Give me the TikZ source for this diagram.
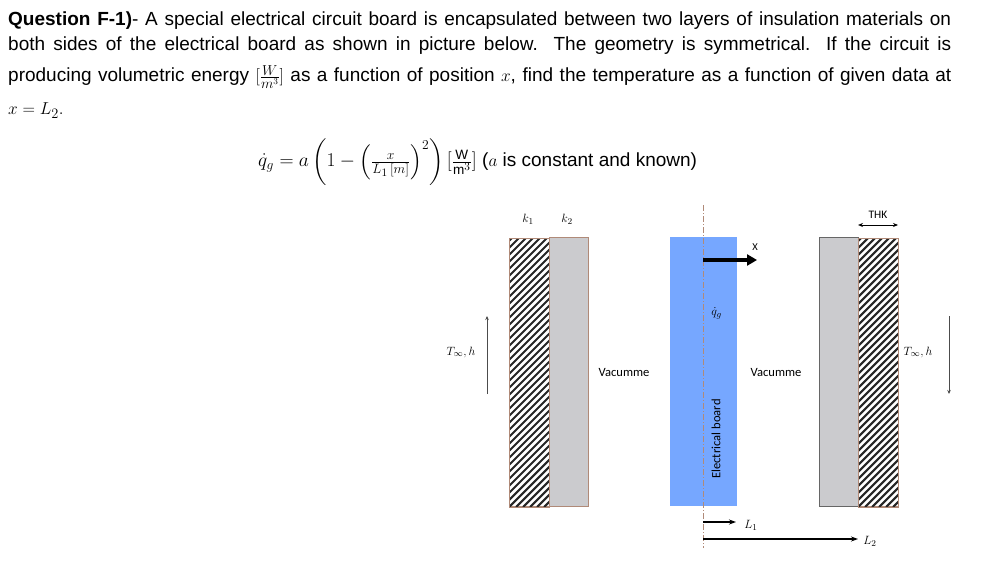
\documentclass[tikz,border=0pt]{standalone}
\usepackage{fontspec}
\usepackage{amsmath}
\usepackage{graphicx}
\setmainfont{Liberation Sans}
\newfontfamily\calfont{Carlito}
\usetikzlibrary{arrows.meta}
\definecolor{edgebrown}{HTML}{B08A78}
\definecolor{wallgray}{HTML}{CBCBCE}
\definecolor{boardblue}{HTML}{76A7FF}
\tikzset{
  line/.style={anchor=base west,inner sep=0pt,font=\fontsize{19}{20}\selectfont},
  lbl/.style={inner sep=0pt,font=\calfont\fontsize{12.6}{14}\selectfont},
  mlbl/.style={inner sep=0pt,font=\fontsize{13}{15}\selectfont},
  wall/.style={draw=edgebrown,fill=wallgray,line width=1pt,minimum height=269pt,minimum width=39pt,inner sep=0pt,anchor=north west},
  hatchbox/.style={draw=edgebrown,line width=1pt,fill=white,minimum height=268pt,minimum width=39.5pt,inner sep=0pt,anchor=north west},
  board/.style={fill=boardblue,minimum height=269pt,minimum width=66.5pt,inner sep=0pt,anchor=north west},
  thin arrow/.style={draw=black!70,line width=.8pt,-{Stealth[length=4pt,width=3.5pt]}},
  dim/.style={draw=black,line width=1.3pt,-{Stealth[length=7pt,width=5pt]}},
  centre/.style={draw=edgebrown,line width=.7pt,dash pattern=on 6pt off 2pt on 1pt off 2pt},
  stripe/.style={line width=2.1pt,black!85}
}
\newcommand{\hatchfill}[1]{%
  \begin{scope}
    \clip (#1.south west) rectangle (#1.north east);
    \path (#1.south west) coordinate (hs);
    \foreach \d in {-280,-273,...,56}{
      \draw[stripe] ([xshift=\d pt]hs) -- ([xshift=\d pt+270pt,yshift=270pt]hs);
    }
  \end{scope}
  \draw[edgebrown,line width=1pt] (#1.south west) rectangle (#1.north east);
}
\begin{document}
\begin{tikzpicture}[x=1pt,y=-1pt]
\useasboundingbox (0,0) rectangle (981,580);
% text
\node[line] (t1) at (8,26) {\makebox[943pt][s]{\textbf{Question F-1)}- A special electrical circuit board is encapsulated between two layers of insulation materials on}};
\node[line] (t2) at (8,51) {\makebox[943pt][s]{both sides of the electrical board as shown in picture below. The geometry is symmetrical. If the circuit is}};
\node[line] (t3) at (8,82) {\makebox[943pt][s]{producing volumetric energy $[\frac{W}{m^3}]$ as a function of position $x$, find the temperature as a function of given data at}};
\node[line] (t4) at (8,115) {$x=L_2.$};
\node[line,font=\fontsize{17.28}{20}\selectfont] (eq) at (258,167) {\scalebox{1.13}{$\dot q_g=a\left(1-\left(\frac{x}{L_1\,[m]}\right)^{2}\right)[\frac{\mathrm{W}}{\mathrm{m}^3}]$}};
\node[line] (eqt) at (482,167) {($a$ is constant and known)};
% walls
\node[hatchbox] (h1) at (509,238) {};
\hatchfill{h1}
\node[wall] (k2w) at (549,237) {};
\node[board] (brd) at (670,237) {};
\node[wall,draw=black!60] (k2e) at (818.5,237) {};
\node[hatchbox] (h2) at (858,238) {};
\hatchfill{h2}
% centre line
\coordinate (ctop) at (703,205);
\coordinate (cbot) at (703,548);
\draw[centre] (ctop) -- (cbot);
% x arrow
\coordinate (xa) at (703,260);
\coordinate (xb) at (757,260);
\draw[line width=3.5pt,-{Triangle[length=10pt,width=11pt]}] (xa) -- (xb);
\node[lbl,font=\calfont\fontsize{10.5}{12}\selectfont] (xl) at (755,247) {X};
\node[mlbl] (qg) at (716.5,313) {$\dot q_g$};
\node[lbl] (v1) at (624,372.5) {Vacumme};
\node[lbl] (v2) at (776,372.5) {Vacumme};
\node[lbl,rotate=90] (eb) at (716,439) {Electrical board};
\node[mlbl] (k1) at (528,219) {$k_1$};
\node[mlbl] (k2) at (567,219) {$k_2$};
\node[lbl,font=\calfont\fontsize{11.5}{13}\selectfont] (thk) at (878,215) {THK};
\coordinate (tl) at (858,225);
\coordinate (tr) at (898,225);
\draw[black,line width=.9pt,{Stealth[length=5pt,width=4pt]}-{Stealth[length=5pt,width=4pt]}] (tl) -- (tr);
\node[mlbl] (tinfl) at (461,352) {$T_\infty,h$};
\node[mlbl] (tinfr) at (918,352) {$T_\infty,h$};
\coordinate (al) at (487,394);
\coordinate (bl) at (487,316);
\coordinate (ar) at (949,316);
\coordinate (br) at (949,394);
\draw[thin arrow] (al) -- (bl);
\draw[thin arrow] (ar) -- (br);
% dimensions
\coordinate (l1a) at (703,522);
\coordinate (l1b) at (736,522);
\coordinate (l2a) at (703,539);
\coordinate (l2b) at (858,539);
\draw[dim] (l1a) -- (l1b);
\draw[dim] (l2a) -- (l2b);
\node[mlbl] (l1) at (751,525) {$L_1$};
\node[mlbl] (l2) at (870,541) {$L_2$};
\end{tikzpicture}
\end{document}
